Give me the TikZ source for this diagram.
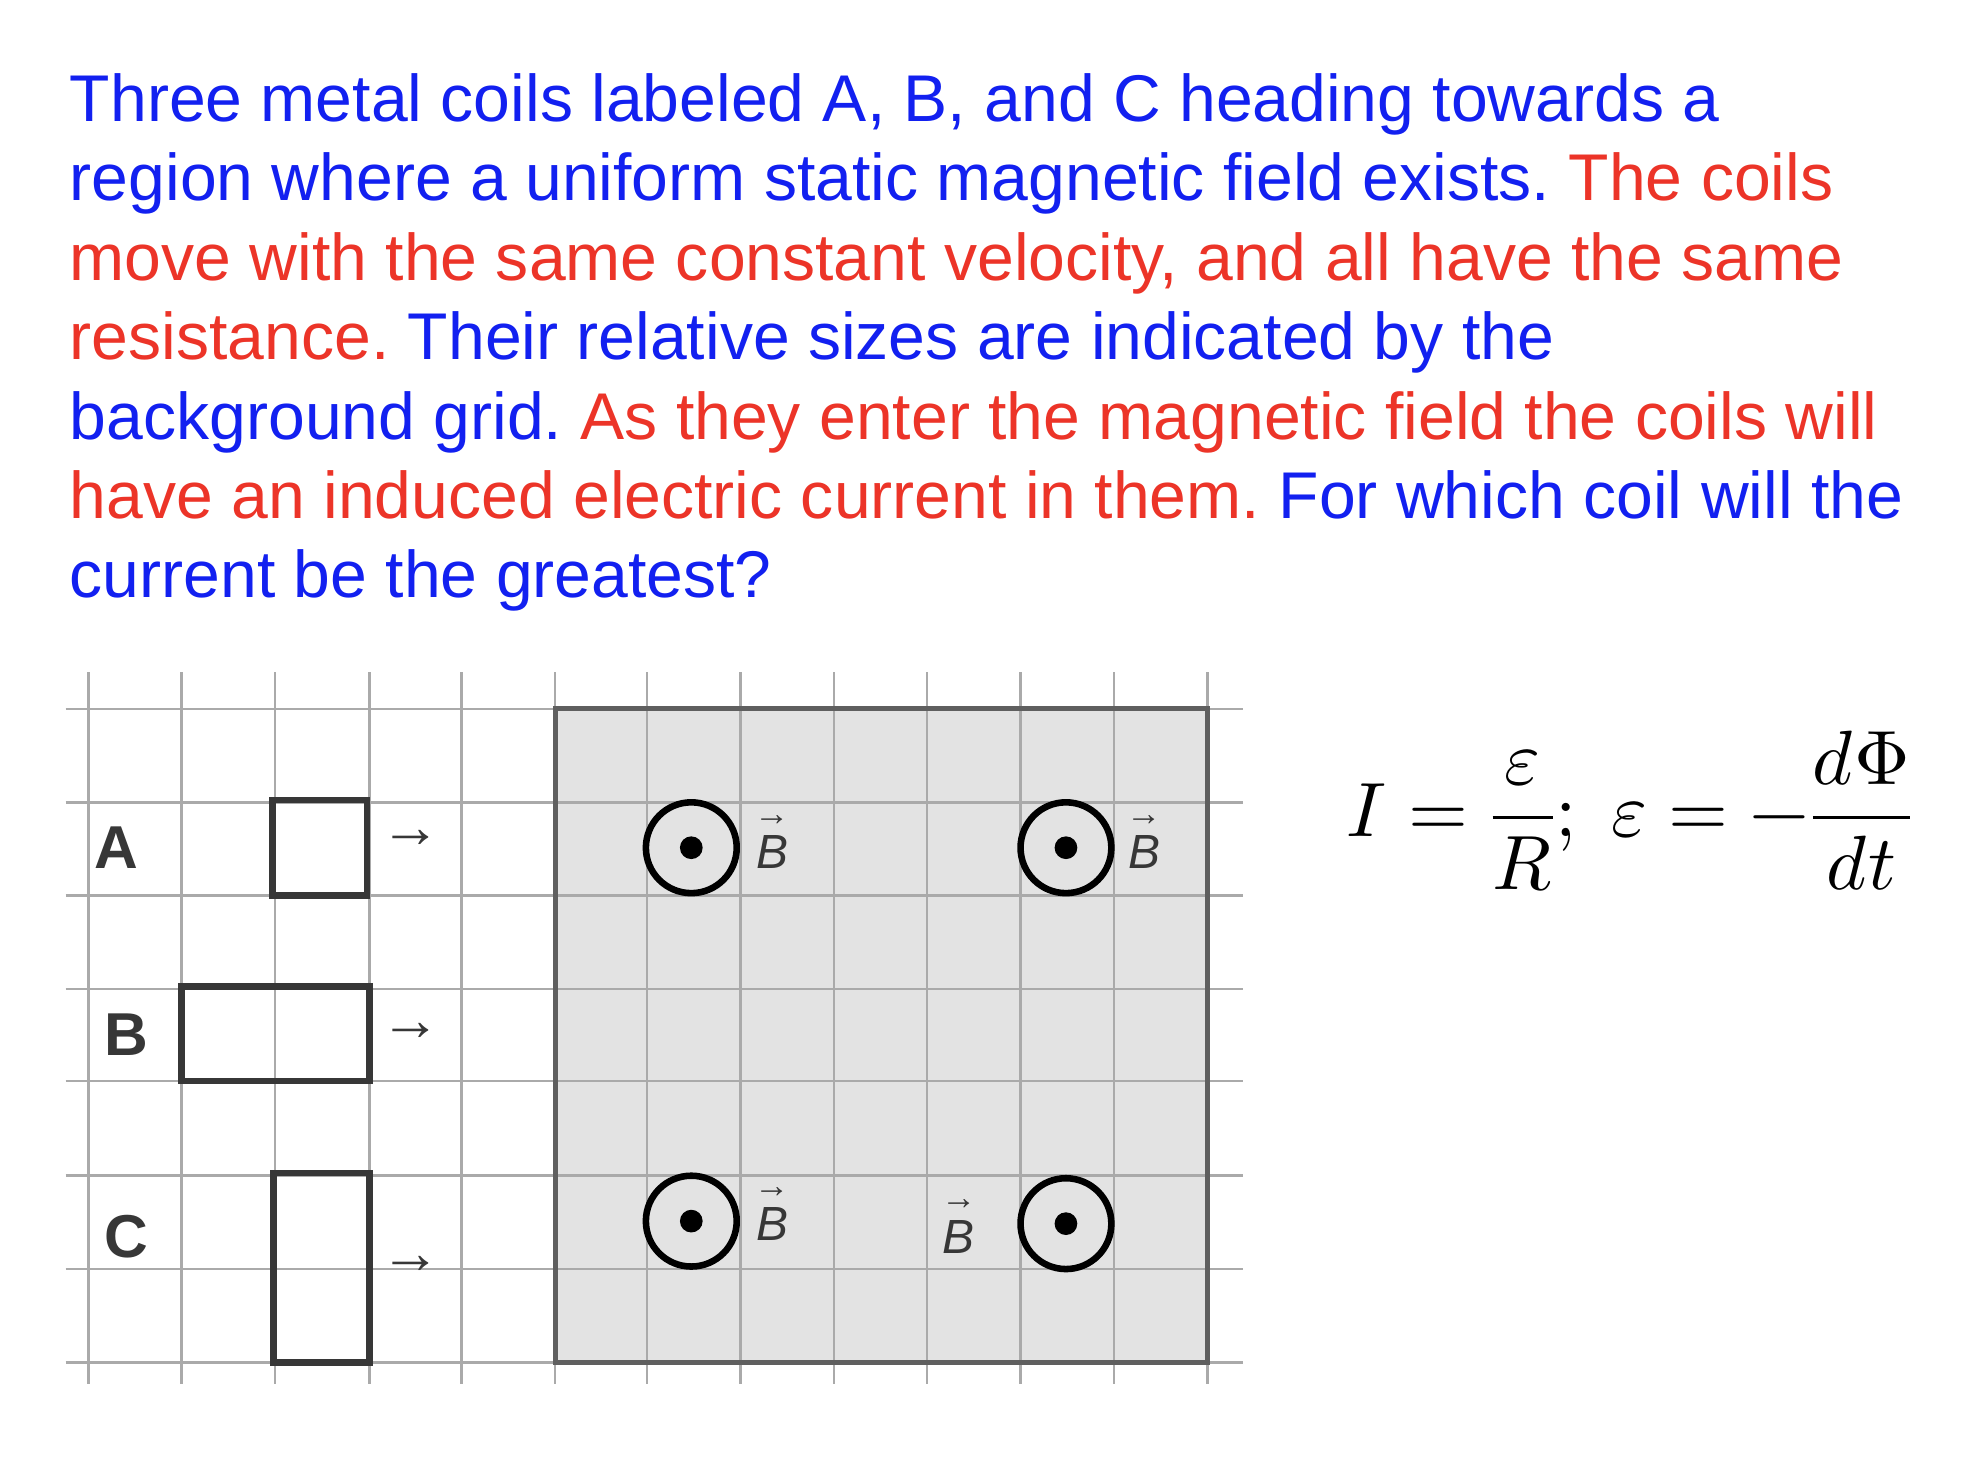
\documentclass[tikz,border=0pt]{standalone}
\usepackage{fontspec}
\setmainfont{Liberation Sans}
\usepackage{amsmath}
\usepackage{unicode-math}
\setmathfont{Latin Modern Math}
\frenchspacing
\definecolor{qblue}{RGB}{18,32,240}
\definecolor{qred}{RGB}{236,52,40}
\definecolor{gridc}{RGB}{170,170,170}
\definecolor{inkc}{RGB}{55,55,55}
\newcommand{\bvec}{\ensuremath{\overset{\textbf{\fontsize{14}{14}\selectfont→}}{\raisebox{0pt}[0.7em][0pt]{\textit{B}}}}}
\tikzset{
  txt/.style={anchor=base west,inner sep=0pt,font=\fontsize{26.2}{31}\selectfont},
  coil/.style={draw=inkc,line width=2.6pt},
  lbl/.style={font=\fontsize{24}{28}\selectfont\bfseries,text=inkc},
  arr/.style={font=\fontsize{24}{28}\selectfont,text=inkc},
  bcirc/.style={circle,draw=black,line width=2.6pt,minimum size=36pt,inner sep=0pt},
  bv/.style={font=\fontsize{19}{22}\selectfont,text=inkc,inner sep=0pt}
}
\begin{document}
\begin{tikzpicture}[x=0.5pt,y=-0.5pt]
\useasboundingbox (0,0) rectangle (1568,1163);
% text
\node[txt,text=qblue] (l1) at (55,96) {Three metal coils labeled A, B, and C heading towards a};
\node[txt,text=qblue] (l2) at (55,159) {region where a uniform static magnetic field exists. \textcolor{qred}{The coils}};
\node[txt,text=qred] (l3) at (55,222) {move with the same constant velocity, and all have the same};
\node[txt,text=qred] (l4) at (55,285) {resistance. \textcolor{qblue}{Their relative sizes are indicated by the}};
\node[txt,text=qblue] (l5) at (55,348) {background grid. \textcolor{qred}{As they enter the magnetic field the coils will}};
\node[txt,text=qred] (l6) at (55,411) {have an induced electric current in them. \textcolor{qblue}{For which coil will the}};
\node[txt,text=qblue] (l7) at (55,474) {current be the greatest?};
% field region
\fill[gray!22] (440,562) rectangle (957,1080);
% grid
\foreach \x in {70,144,218,293,366,440,513,587,661,735,809,883,957}
  \draw[gridc,line width=1pt] (\x,533) -- (\x,1097);
\foreach \y in {562,636,710,784,857,932,1006,1080}
  \draw[gridc,line width=1pt] (52,\y) -- (985,\y);
\draw[inkc!80,line width=2pt] (440,562) rectangle (957,1080);
% coils
\draw[coil] (216,634) rectangle (291,710);
\draw[coil] (144,782) rectangle (293,857);
\draw[coil] (217,930) rectangle (293,1080);
\node[lbl] (la) at (92,672) {A};
\node[lbl] (lb) at (100,820) {B};
\node[lbl] (lc) at (100,980) {C};
\node[arr] (aa) at (326,665) {→};
\node[arr] (ab) at (326,818) {→};
\node[arr] (ac) at (326,1003) {→};
% B field symbols
\foreach \n/\cx/\cy in {c1/548/672,c2/845/672,c3/548/968,c4/845/970}{
  \node[bcirc] (\n) at (\cx,\cy) {};
  \fill (\cx,\cy) circle (4.5pt);
}
\node[bv] (b1) at (612,665) {\bvec};
\node[bv] (b2) at (907,665) {\bvec};
\node[bv] (b3) at (612,960) {\bvec};
\node[bv] (b4) at (760,970) {\bvec};
% equation
\node[anchor=center,inner sep=0pt,font=\fontsize{30.5}{36}\selectfont] (eq) at (1292,643)
  {$I=\dfrac{\varepsilon}{R};\ \varepsilon=-\dfrac{d\Phi}{dt}$};
\end{tikzpicture}
\end{document}
